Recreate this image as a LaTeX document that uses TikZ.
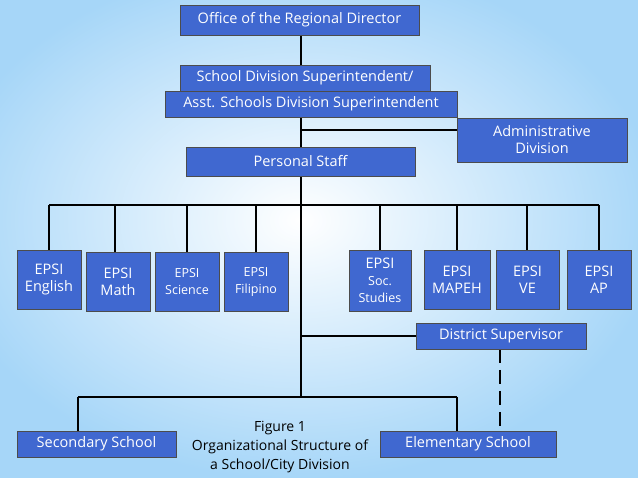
\documentclass[tikz,border=0pt]{standalone}
\usepackage{fontspec}
\setmainfont{Open Sans}
\begin{document}
\begin{tikzpicture}[x=1pt,y=-1pt,
  bx/.style={draw=black!70,fill=boxblue,text=white,inner sep=0pt,font=\fontsize{14.5}{17}\selectfont,align=center},
  ln/.style={line width=1.8pt,black}]
\definecolor{boxblue}{HTML}{4068D0}
\definecolor{bgblue}{HTML}{A6D6F8}
\useasboundingbox (0,0) rectangle (638,478);
\fill[bgblue] (0,0) rectangle (638,478);
\begin{scope}
\clip (0,0) rectangle (638,478);
\shade[inner color=white,outer color=bgblue] (300,220) ellipse [x radius=360,y radius=260];
\end{scope}
\coordinate (t) at (301,397);
\coordinate (h) at (301,205);
\draw[ln] (301,35) -- (t);
\draw[ln] (301,130) -- (457,130);
\draw[ln] (49,205) -- (599,205);
\foreach \xx in {49,115,187,256,380,457,527,599}{\draw[ln] (\xx,205) -- (\xx,255);}
\draw[ln] (301,336) -- (416,336);
\draw[ln] (78,397) -- (457,397);
\draw[ln] (78,397) -- (78,431);
\draw[ln] (457,397) -- (457,431);
\draw[ln,dash pattern=on 14pt off 7pt] (500,349) -- (500,431);
\newcommand\bx[5]{\node[bx,minimum width={#4-#2},minimum height={#5-#3}] (#1) at ({(#2+#4)/2},{(#3+#5)/2})}
\bx{ord}{180}{5}{419}{35} {Office of the Regional Director};
\bx{sds}{180}{65}{430}{91} {School Division Superintendent/};
\bx{asds}{165}{91}{457}{117} {Asst. Schools Division Superintendent};
\bx{adm}{457}{118}{627}{162} {Administrative\\Division};
\bx{ps}{186}{147}{415}{176} {Personal Staff};
\bx{eng}{17}{250}{81}{309} {EPSI\\English};
\bx{mat}{86}{252}{150}{311} {EPSI\\Math};
\bx{sci}{155}{252}{219}{311} {\fontsize{12.5}{17}\selectfont EPSI\\\fontsize{12.5}{17}\selectfont Science};
\bx{fil}{224}{252}{288}{311} {\fontsize{12.5}{17}\selectfont EPSI\\\fontsize{12.5}{17}\selectfont Filipino};
\bx{soc}{349}{250}{411}{311} {EPSI\\\fontsize{12.5}{16}\selectfont Soc.\\\fontsize{12.5}{16}\selectfont Studies};
\bx{mapeh}{424}{250}{490}{309} {EPSI\\MAPEH};
\bx{ve}{496}{250}{559}{309} {EPSI\\VE};
\bx{ap}{567}{250}{631}{309} {EPSI\\AP};
\bx{dsup}{416}{323}{586}{349} {District Supervisor};
\bx{sec}{17}{431}{176}{457} {Secondary School};
\bx{elem}{380}{431}{556}{457} {Elementary School};
\node[align=center,font=\fontsize{14}{19}\selectfont,inner sep=0pt] (cap) at (280,447) {Figure 1\\Organizational Structure of\\a School/City Division};
\end{tikzpicture}
\end{document}
